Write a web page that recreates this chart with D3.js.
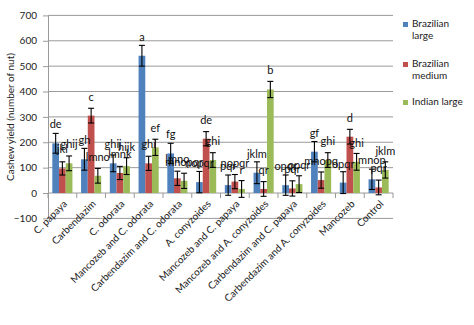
<!DOCTYPE html>
<html><head><meta charset="utf-8">
<script src="https://cdn.jsdelivr.net/npm/d3@7"></script>
<style>
body{margin:0;background:#fff;}
svg{display:block;font-family:Lato,"Open Sans",sans-serif;}
</style>
</head><body>
<svg id="c" width="474" height="325"></svg>
<script>
const categories = ["C. papaya","Carbendazim","C. odorata","Mancozeb and C. odorata","Carbendazim and C. odorata","A. conyzoides","Mancozeb and C. papaya","Mancozeb and A. conyzoides","Carbendazim and C. papaya","Carbendazim and A. conyzoides","Mancozeb","Control"];
const seriesNames = ["Brazilian large","Brazilian medium","Indian large"];
const brazilianLarge = [196,133,117,541,156,43,31,80,31,163,41,54];
const brazilianLargeErr = [39,43,33,41,40,42,40,43,40,40,43,40];
const brazilianMedium = [97,305,79,117,58,214,45,16,18,51,222,22];
const brazilianMediumErr = [26,29,26,28,28,28,28,29,30,32,29,29];
const indianLarge = [117,68,106,180,48,130,16,408,35,130,123,91];
const indianLargeErr = [29,29,33,32,30,29,33,32,33,29,33,32];
const brazilianLargeLetters = ["de","gh","ghij","a","fg","nopqr","pqr","jklm","opqr","gf","opqr","mnop"];
const brazilianMediumLetters = ["jkl","c","lmnk","ghi","lmno","de","nopqr","qr","pqr","mnopq","d","pqr"];
const indianLargeLetters = ["ghij","lmno","hijk","ef","mnopqr","ghi","r","b","opqr","ghi","ghi","jklm"];
const yTicks = [-100,0,100,200,300,400,500,600,700];
const colors = ["#4F81BD","#C0504D","#9BBB59"];

const series = [
  {name: seriesNames[0], values: brazilianLarge, err: brazilianLargeErr, letters: brazilianLargeLetters},
  {name: seriesNames[1], values: brazilianMedium, err: brazilianMediumErr, letters: brazilianMediumLetters},
  {name: seriesNames[2], values: indianLarge, err: indianLargeErr, letters: indianLargeLetters}
];
const color = d3.scaleOrdinal().domain(seriesNames).range(colors);

const svg = d3.select("#c");
const left = 48, right = 393;
const x0 = d3.scaleBand().domain(categories).range([left, right]);
const bw = x0.bandwidth();
const x1 = d3.scaleBand().domain(seriesNames).range([bw*0.15, bw*0.85]);
const y = d3.scaleLinear().domain([-100,700]).range([218.4, 15.4]);
const grid = "#9a9a9a";

// gridlines
svg.append("g").selectAll("line").data(yTicks.filter(d=>d!==0)).join("line")
  .attr("x1", left).attr("x2", right)
  .attr("y1", d=>y(d)).attr("y2", d=>y(d))
  .attr("stroke", grid).attr("stroke-width", 1);

// y axis
const yAxis = svg.append("g").attr("transform", `translate(${left},0)`)
  .call(d3.axisLeft(y).tickValues(yTicks).tickSize(5).tickPadding(6).tickSizeOuter(0));
yAxis.select(".domain").attr("stroke", grid);
yAxis.selectAll(".tick line").attr("stroke", grid);
yAxis.selectAll("text").attr("font-size", 10).attr("fill", "#222").attr("font-family","Lato");

// x axis line at zero
const y0 = y(0);
svg.append("line").attr("x1", left).attr("x2", right).attr("y1", y0).attr("y2", y0).attr("stroke", grid);
const bounds = categories.map(c=>x0(c)).concat([right]);
svg.append("g").selectAll("line").data(bounds).join("line")
  .attr("x1", d=>d).attr("x2", d=>d).attr("y1", y0).attr("y2", y0+5).attr("stroke", grid);

// bars
const gs = svg.append("g").selectAll("g").data(series).join("g").attr("fill", d=>color(d.name));
gs.selectAll("rect").data(s=>s.values.map((v,i)=>({s:s.name, c:categories[i], v}))).join("rect")
  .attr("x", d=>x0(d.c)+x1(d.s)).attr("width", x1.bandwidth())
  .attr("y", d=>Math.min(y(d.v), y0)).attr("height", d=>Math.abs(y0-y(d.v)));

// error bars
const eg = svg.append("g").attr("stroke", "#000").attr("stroke-width", 1.1);
series.forEach(s=>{
  s.values.forEach((v,i)=>{
    const cx = x0(categories[i]) + x1(s.name) + x1.bandwidth()/2;
    const t = y(v + s.err[i]), b = y(v - s.err[i]);
    eg.append("line").attr("x1",cx).attr("x2",cx).attr("y1",t).attr("y2",b);
    eg.append("line").attr("x1",cx-3).attr("x2",cx+3).attr("y1",t).attr("y2",t);
    eg.append("line").attr("x1",cx-3).attr("x2",cx+3).attr("y1",b).attr("y2",b);
  });
});

// letters
const lg = svg.append("g").attr("font-size", 11).attr("fill", "#111").attr("text-anchor","middle");
series.forEach(s=>{
  s.values.forEach((v,i)=>{
    const cx = x0(categories[i]) + x1(s.name) + x1.bandwidth()/2;
    lg.append("text").attr("x", cx).attr("y", y(v) - 15).text(s.letters[i]);
  });
});

// category labels
svg.append("g").selectAll("text").data(categories).join("text")
  .attr("transform", d=>`translate(${x0(d)+bw/2+3},${y0+9}) rotate(-45)`)
  .attr("text-anchor","end").attr("dy","0.35em")
  .attr("font-size", 10).attr("fill", "#222").text(d=>d);

// y title
svg.append("text").attr("transform", `translate(14,117) rotate(-90)`)
  .attr("text-anchor","middle").attr("font-size", 10).attr("fill","#222")
  .text("Cashew yield (number of nut)");

// legend
const legendLines = [["Brazilian","large"],["Brazilian","medium"],["Indian large"]];
const legendY = [22, 62, 100];
const leg = svg.append("g");
seriesNames.forEach((n,i)=>{
  leg.append("rect").attr("x", 403).attr("y", legendY[i]).attr("width", 5).attr("height", 5).attr("fill", color(n));
  const t = leg.append("text").attr("x", 412).attr("y", legendY[i]+5).attr("font-size", 10).attr("fill","#222");
  legendLines[i].forEach((l,j)=>t.append("tspan").attr("x",412).attr("dy", j? 12.3 : 0).text(l));
});
</script>
</body></html>
